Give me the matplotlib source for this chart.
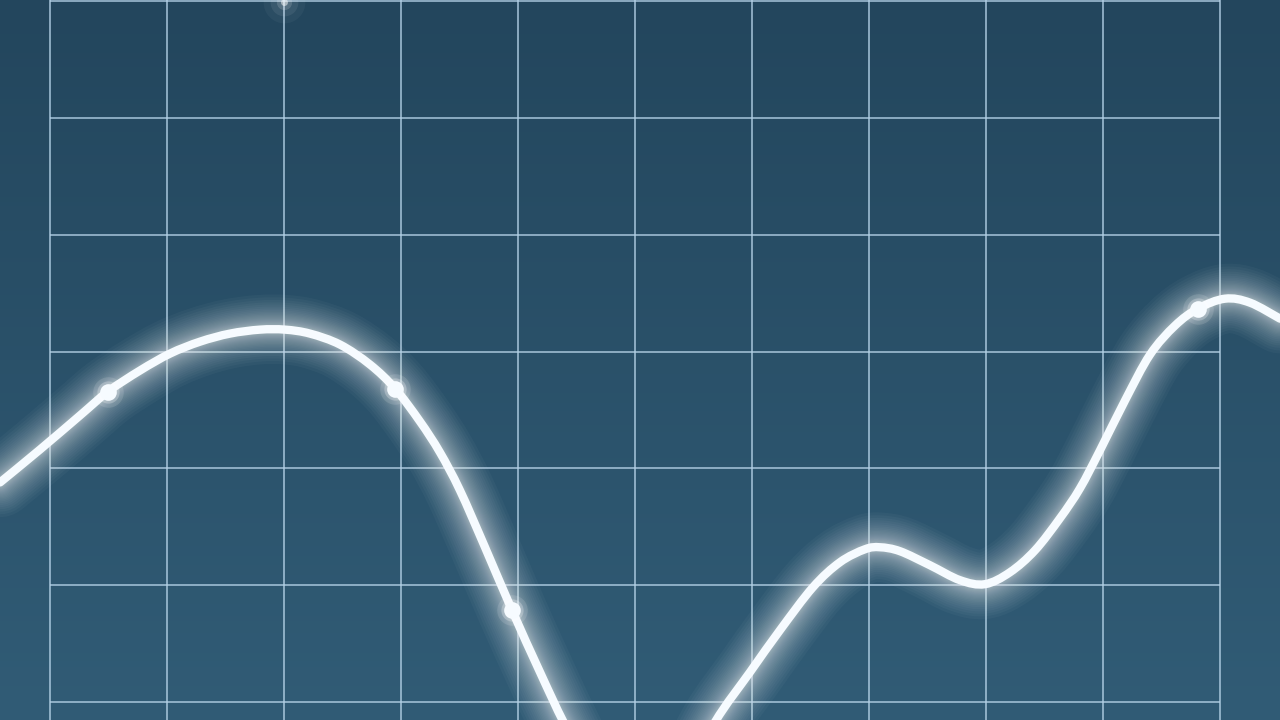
import numpy as np
import matplotlib
matplotlib.use("Agg")
import matplotlib.pyplot as plt
from matplotlib.path import Path
from matplotlib.patches import PathPatch

# curve values, in grid units (one grid cell = 1)
curve_x = [-0.427, -0.085, 0.256, 0.496, 0.769, 1.026, 1.282, 1.538, 1.795, 2.009,
           2.222, 2.479, 2.735, 2.949, 3.162, 3.333, 3.504, 3.718, 3.949, 4.188, 4.402,
           4.70, 5.04, 5.38, 5.684, 5.983, 6.239, 6.521, 6.752, 6.966, 7.094,
           7.265, 7.521, 7.778, 7.991, 8.205, 8.419, 8.632, 8.803, 8.974, 9.188,
           9.402, 9.615, 9.812, 10.043, 10.256, 10.513]
curve_y = [1.880, 2.162, 2.453, 2.658, 2.838, 2.983, 3.085, 3.154, 3.188, 3.188,
           3.154, 3.060, 2.889, 2.684, 2.402, 2.137, 1.812, 1.325, 0.786, 0.256, -0.197,
           -0.75, -1.01, -0.75, -0.171, 0.256, 0.615, 0.983, 1.197, 1.308, 1.325,
           1.291, 1.171, 1.043, 1.009, 1.111, 1.299, 1.573, 1.829, 2.154, 2.581,
           2.974, 3.222, 3.368, 3.453, 3.419, 3.282]

# highlighted points on the curve
dot_x = [0.496, 2.949, 3.949, 9.812]
dot_y = [2.658, 2.684, 0.786, 3.368]

grid_cols = list(range(0, 11))
grid_rows = list(range(0, 7))


def smooth_path(xs, ys):
    # bezier segments through the points (catmull-rom style control points)
    p = np.column_stack([xs, ys])
    verts = [p[0]]
    codes = [Path.MOVETO]
    n = len(p)
    for i in range(n - 1):
        p0 = p[max(i - 1, 0)]
        p1, p2 = p[i], p[i + 1]
        p3 = p[min(i + 2, n - 1)]
        verts += [p1 + (p2 - p0) / 6, p2 - (p3 - p1) / 6, p2]
        codes += [Path.CURVE4] * 3
    return Path(verts, codes)


fig = plt.figure(figsize=(12.8, 7.2), dpi=100)
ax = fig.add_axes([0, 0, 1, 1])
x0, x1 = -50 / 117, 1230 / 117
y0, y1 = -18 / 117, 702 / 117 + 0.01
ax.set_xlim(x0, x1)
ax.set_ylim(y0, y1)
ax.axis("off")

# background: vertical gradient, darker at the top
top = np.array([35, 70, 93]) / 255
bottom = np.array([49, 92, 118]) / 255
t = np.linspace(0, 1, 256)[:, None]
grad = top * (1 - t) + bottom * t
ax.imshow(grad[:, None, :].repeat(2, axis=1), extent=[x0, x1, y0, y1],
          aspect="auto", zorder=0, interpolation="bicubic")

# grid
gcol = (0.70, 0.82, 0.90)
ax.vlines(grid_cols, y0, y1, color=gcol, lw=1.4, alpha=0.72, zorder=1)
ax.hlines(grid_rows, grid_cols[0], grid_cols[-1], color=gcol, lw=1.4, alpha=0.72, zorder=1)

# small flare at the top
for s, a in [(900, 0.04), (400, 0.07), (120, 0.15), (25, 0.5)]:
    ax.scatter([2.0], [y1 - 0.02], s=s, color="white", alpha=a, lw=0, zorder=2)

path = smooth_path(curve_x, curve_y)

# soft glow around the curve, denser near the core
for lw in np.geomspace(50, 7, 24):
    ax.add_patch(PathPatch(path, fill=False, edgecolor="white", lw=lw, alpha=0.032,
                           capstyle="round", joinstyle="round", zorder=3))

ax.add_patch(PathPatch(path, fill=False, edgecolor="#f6fbff", lw=6,
                       capstyle="round", joinstyle="round", zorder=4))

for ms, a in [(22, 0.12), (16, 0.25)]:
    ax.plot(dot_x, dot_y, "o", color="white", ms=ms, alpha=a, mec="none", zorder=4)
ax.plot(dot_x, dot_y, "o", color="#f6fbff", ms=12, mec="none", zorder=5)

fig.savefig("out.png", dpi=100)
